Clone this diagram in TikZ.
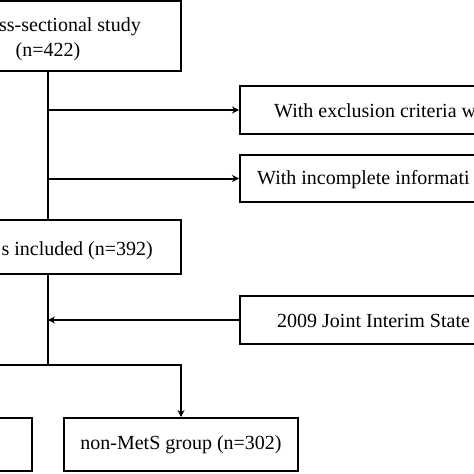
\documentclass[tikz,border=0pt]{standalone}
\usepackage{fontspec}
\setmainfont{Liberation Serif}
\usetikzlibrary{arrows.meta,positioning}

\begin{document}
\begin{tikzpicture}[x=1pt,y=-1pt,
        box/.style={draw, line width=2pt, rectangle, inner sep=0pt},
        txt/.style={inner sep=0pt, font=\fontsize{20}{24}\selectfont},
        conn/.style={line width=2pt},
        arr/.style={conn, -{Stealth[length=7pt,width=7pt]}}]
        \useasboundingbox (0,0) rectangle (474,474);
        \clip (0,0) rectangle (474,474);
        % Define nodes
        \node[box, minimum width=266, minimum height=70] (cross) at (48,36) {};
        \node[txt, anchor=base east] (crosst) at (141,31) {ss-sectional study};
        \node[txt, anchor=base] (crossn) at (48,56) {(n=422)};
        \node[box, anchor=north west, minimum width=300, minimum height=48] (excl) at (239,85) {};
        \node[txt, anchor=base west] (exclt) at (274,117) {With exclusion criteria w};
        \node[box, anchor=north west, minimum width=300, minimum height=47] (incomp) at (239,154) {};
        \node[txt, anchor=base west] (incompt) at (257,184) {With incomplete informati};
        \node[box, minimum width=266, minimum height=54] (incl) at (48,247) {};
        \node[txt, anchor=base east] (inclt) at (153,255) {s included (n=392)};
        \node[box, anchor=north west, minimum width=300, minimum height=48] (crit) at (239,295) {};
        \node[txt, anchor=base west] (critt) at (277,327) {2009 Joint Interim State};
        \node[box, minimum width=234, minimum height=53] (mets) at (-85,444.5) {};
        \node[box, txt, draw, minimum width=234, minimum height=53] (nonmets) at (181,444.5) {non-MetS group (n=302)};
        % Connect nodes
        \coordinate (j1) at (cross.south |- excl.west);
        \coordinate (j2) at (cross.south |- incomp.west);
        \coordinate (j3) at (incl.south |- crit.west);
        \coordinate (j4) at ([yshift=-90pt]incl.south);
        \draw[conn] (cross.south) -- (incl.north);
        \draw[arr] (j1) -- (excl.west);
        \draw[arr] (j2) -- (incomp.west);
        \draw[conn] (incl.south) -- (j4);
        \draw[arr] (crit.west) -- (j3);
        \draw[arr] (j4) -| (nonmets.north);
        \draw[arr] (j4) -| (mets.north);
    \end{tikzpicture}
\end{document}
